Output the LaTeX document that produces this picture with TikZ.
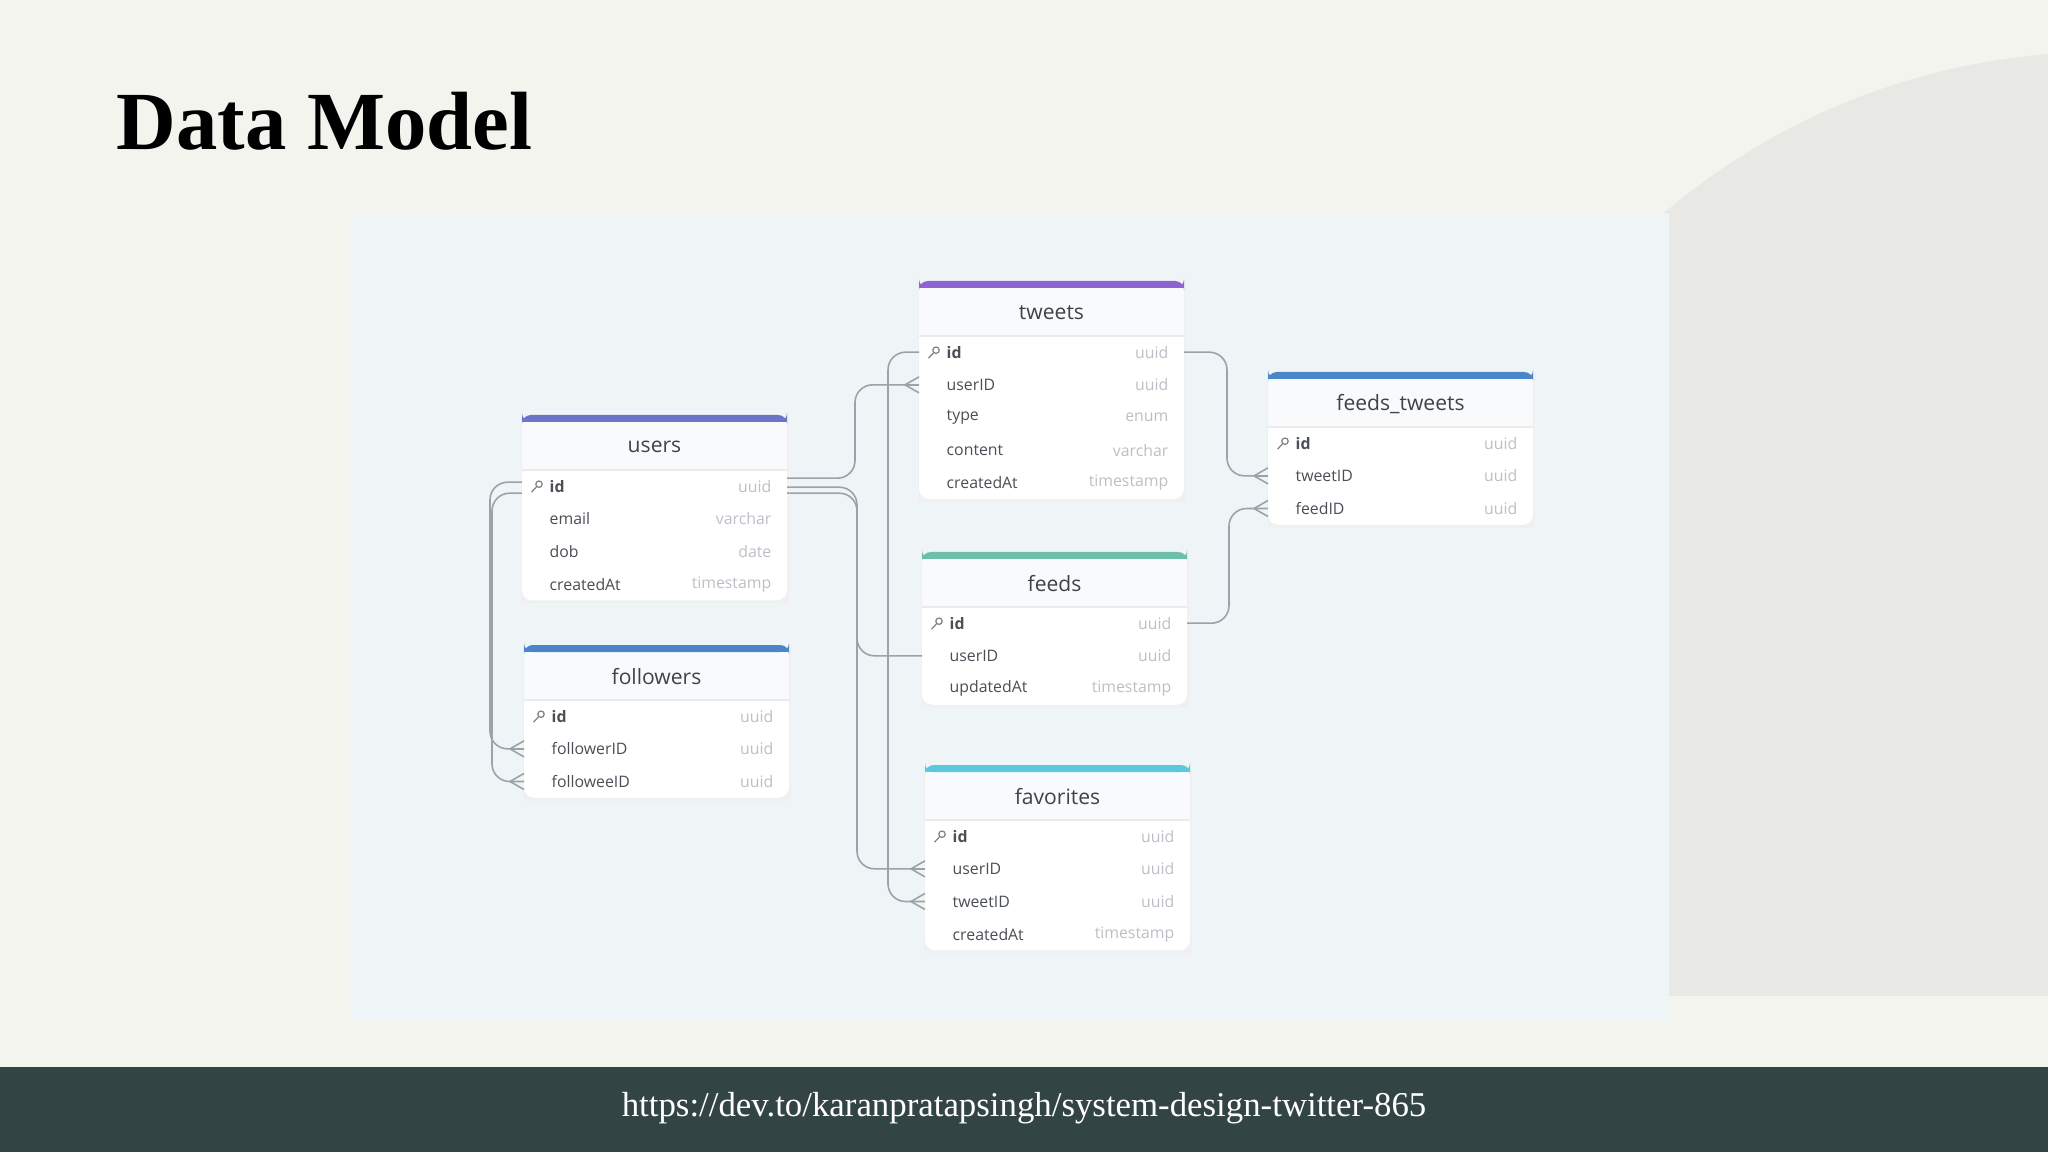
\documentclass[tikz,border=0pt]{standalone}
\usepackage{fontspec}
\setmainfont{Liberation Serif}
\newfontfamily\tabfont{Open Sans}
\usetikzlibrary{calc}
\definecolor{bgc}{HTML}{F4F4EF}
\definecolor{arcc}{HTML}{E8E8E4}
\definecolor{panelc}{HTML}{EFF4F7}
\definecolor{barc}{HTML}{334445}
\definecolor{connc}{HTML}{9CA2A8}
\definecolor{txtc}{HTML}{4A4F55}
\definecolor{typec}{HTML}{BCC0C6}
\definecolor{hdrc}{HTML}{F8FAFC}
\definecolor{cusers}{HTML}{6B74C8}
\definecolor{cfoll}{HTML}{4A86C8}
\definecolor{ctweets}{HTML}{8E63D2}
\definecolor{cfeeds}{HTML}{6CBFA8}
\definecolor{cfav}{HTML}{5BC9DD}
\tikzset{
  conn/.style={draw=connc, line width=0.45pt, rounded corners=5},
  ttl/.style={font=\tabfont\fontsize{6.0}{7}\selectfont, text=txtc!85!black},
  rowtxt/.style={font=\tabfont\fontsize{4.5}{5}\selectfont, text=txtc, inner sep=0},
  rowbold/.style={font=\tabfont\bfseries\fontsize{4.5}{5}\selectfont, text=txtc, inner sep=0},
  typetxt/.style={font=\tabfont\fontsize{4.5}{5}\selectfont, text=typec, inner sep=0},
}
% #1 name, #2 x, #3 top, #4 color, #5 title, #6 rows
\newcommand\ertable[6]{%
  \pgfmathsetmacro\nrows{0}%
  \foreach \f/\t/\k [count=\n] in {#6}{\xdef\nrows{\n}}%
  \pgfmathsetmacro\tb{#3+54.85+\nrows*32.65}%
  \fill[black!6] (#2-1,#3+1) rectangle (#2+267,\tb+3);
  \fill[white, rounded corners=3] (#2,#3) rectangle (#2+265,\tb);
  \fill[hdrc] (#2,#3+6) rectangle (#2+265,#3+54.85);
  \fill[#4, rounded corners=2.5] (#2,#3) rectangle (#2+265,#3+7);
  \fill[#4] (#2,#3+3) rectangle (#2+265,#3+7);
  \draw[black!8, line width=0.4pt] (#2,#3+54.85) -- (#2+265,#3+54.85);
  \node[ttl] (#1-title) at (#2+132.5,#3+32) {#5};
  \foreach \f/\t/\k [count=\i from 0] in {#6}{%
    \pgfmathsetmacro\ry{#3+71.2+32.65*\i}%
    \coordinate (#1-L\i) at (#2,\ry);
    \coordinate (#1-R\i) at (#2+265,\ry);
    \ifnum\k=1
      \node[rowbold, anchor=west] (#1-f\i) at (#2+27,\ry) {\f};
      \draw[txtc!70, line width=0.35pt] (#2+17,\ry-2) circle (3.2);
      \draw[txtc!70, line width=0.35pt] (#2+14.8,\ry+0.3) -- (#2+9.5,\ry+6);
    \else
      \node[rowtxt, anchor=west] (#1-f\i) at (#2+27,\ry) {\f};
    \fi
    \node[typetxt, anchor=east] (#1-t\i) at (#2+250,\ry) {\t};
  }%
}
\newcommand\crow[1]{%
  \draw[connc, line width=0.45pt] ($(#1)+(0,-8)$) -- ($(#1)+(-14,0)$) -- ($(#1)+(0,8)$);
  \draw[connc, line width=0.45pt] ($(#1)+(-14,0)$) -- (#1);
}
\begin{document}
\begin{tikzpicture}[x=0.01cm,y=-0.01cm]
\useasboundingbox (0,0) rectangle (2048,1152);
\fill[bgc] (0,0) rectangle (2048,1152);
\begin{scope}
  \clip (0,0) rectangle (2048,995);
  \fill[arcc] (2103,731) circle (679);
\end{scope}
\fill[panelc] (350,213) rectangle (1669,1019);
\node[anchor=base west, inner sep=0, font=\bfseries\fontsize{23.5}{28}\selectfont] (title) at (116,150) {Data Model};
\fill[barc] (0,1067) rectangle (2048,1152);
\node[text=white, font=\fontsize{9.9}{12}\selectfont] (url) at (1024,1108) {https://dev.to/karanpratapsingh/system-design-twitter-865};

\ertable{users}{522}{415}{cusers}{users}{id/uuid/1,email/varchar/0,dob/date/0,createdAt/timestamp/0}
\ertable{foll}{524}{645}{cfoll}{followers}{id/uuid/1,followerID/uuid/0,followeeID/uuid/0}
\ertable{tweets}{919}{281}{ctweets}{tweets}{id/uuid/1,userID/uuid/0,type/enum/0,content/varchar/0,createdAt/timestamp/0}
\ertable{feeds}{922}{552}{cfeeds}{feeds}{id/uuid/1,userID/uuid/0,updatedAt/timestamp/0}
\ertable{fav}{925}{765}{cfav}{favorites}{id/uuid/1,userID/uuid/0,tweetID/uuid/0,createdAt/timestamp/0}
\ertable{ft}{1268}{372}{cfoll}{feeds\_tweets}{id/uuid/1,tweetID/uuid/0,feedID/uuid/0}

\coordinate (cha) at (855,0);
\coordinate (chb) at (857,0);
\coordinate (chd) at (888,0);
\coordinate (che) at (1227,0);
\coordinate (chf) at (1229,0);
\coordinate (chg) at (490,0);
\coordinate (chh) at (492,0);

% users.id -> tweets.userID
\coordinate (u1) at ($(users-R0)+(0,-8)$);
\draw[conn] (u1) -- (u1 -| cha) |- (tweets-L1);
\crow{tweets-L1}
% users.id -> feeds.userID
\coordinate (u2) at ($(users-R0)+(0,1)$);
\draw[conn] (u2) -- (u2 -| chb) |- (feeds-L1);
% users.id -> favorites.userID
\coordinate (u3) at ($(users-R0)+(0,7)$);
\draw[conn] (u3) -- (u3 -| chb) |- (fav-L1);
\crow{fav-L1}
% tweets.id -> favorites.tweetID
\draw[conn] (tweets-L0) -- (tweets-L0 -| chd) |- (fav-L2);
\crow{fav-L2}
% tweets.id -> feeds_tweets.tweetID
\draw[conn] (tweets-R0) -- (tweets-R0 -| che) |- (ft-L1);
\crow{ft-L1}
% feeds.id -> feeds_tweets.feedID
\draw[conn] (feeds-R0) -- (feeds-R0 -| chf) |- (ft-L2);
\crow{ft-L2}
% users.id -> followers
\coordinate (u4) at ($(users-L0)+(0,-4)$);
\coordinate (u5) at ($(users-L0)+(0,7)$);
\draw[conn] (u4) -- (u4 -| chg) |- (foll-L1);
\crow{foll-L1}
\draw[conn] (u5) -- (u5 -| chh) |- (foll-L2);
\crow{foll-L2}
\end{tikzpicture}
\end{document}
